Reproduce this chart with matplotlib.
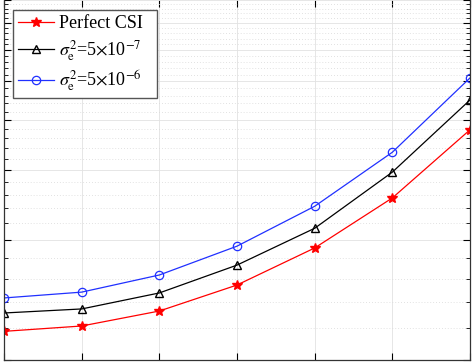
import numpy as np
import matplotlib
matplotlib.use('Agg')
import matplotlib.pyplot as plt
from matplotlib.ticker import FixedLocator, NullFormatter

# datos (eje y logaritmico, etiquetas recortadas)
x_vals = [0, 5, 10, 15, 20, 25, 30]
perfect_csi = [1.18, 1.217, 1.327, 1.542, 1.91, 2.55, 3.78]
sigma_5e7 = [1.312, 1.343, 1.473, 1.73, 2.14, 2.96, 4.49]
sigma_5e6 = [1.431, 1.48, 1.634, 1.93, 2.43, 3.32, 5.1]
labels = ['Perfect CSI',
          r'$\sigma_{\rm e}^{2}$=5$\times$10$^{-7}$',
          r'$\sigma_{\rm e}^{2}$=5$\times$10$^{-6}$']

plt.rcParams['font.family'] = ['Liberation Serif', 'DejaVu Serif']
plt.rcParams['mathtext.fontset'] = 'stix'

fig = plt.figure(figsize=(4.74, 3.62), dpi=100)
ax = fig.add_axes([4 / 474, 2 / 362, 466 / 474, 360 / 362])

ax.plot(x_vals, perfect_csi, color='red', lw=0.9, marker='*', ms=7,
        label=labels[0])
ax.plot(x_vals, sigma_5e7, color='black', lw=0.9, marker='^', ms=6,
        mfc='none', mew=1.0, label=labels[1])
ax.plot(x_vals, sigma_5e6, color='#2030ff', lw=0.9, marker='o', ms=6,
        mfc='none', mew=0.9, label=labels[2])

ax.set_yscale('log')
ax.set_xlim(0, 30)
ax.set_ylim(1, 8)
ax.set_xticks(x_vals)
ax.yaxis.set_major_locator(FixedLocator([1, 2, 3, 4, 5, 6, 7, 8]))
minor = [v + d for v in range(1, 8) for d in (0.2, 0.4, 0.6, 0.8)]
ax.yaxis.set_minor_locator(FixedLocator(minor))
ax.yaxis.set_major_formatter(NullFormatter())
ax.yaxis.set_minor_formatter(NullFormatter())
ax.xaxis.set_major_formatter(NullFormatter())

ax.tick_params(which='both', direction='in', top=True, right=True,
               labelbottom=False, labelleft=False)
ax.tick_params(which='major', length=5, width=0.8)
ax.tick_params(which='minor', length=3, width=0.6)

ax.grid(True, which='major', color='#e2e2e2', lw=0.6, ls='-')
ax.grid(True, which='minor', axis='y', color='#d8d8d8', lw=0.6, ls=(0, (1, 2.5)))
ax.set_axisbelow(True)
for s in ax.spines.values():
    s.set_linewidth(0.9)
    s.set_color('#333333')
ax.spines['top'].set_visible(False)

# leyenda con el ancho fijo de la caja original
leg = ax.legend(loc='upper left', bbox_to_anchor=(0.019, 0.0, 0.31, 0.972),
                mode='expand', fontsize=13,
                handlelength=2.0, handletextpad=0.25, borderpad=0.3,
                labelspacing=0.3, fancybox=False, framealpha=1,
                edgecolor='#555555', borderaxespad=0)
leg.get_frame().set_linewidth(1.0)

fig.savefig('out.png', dpi=100)
